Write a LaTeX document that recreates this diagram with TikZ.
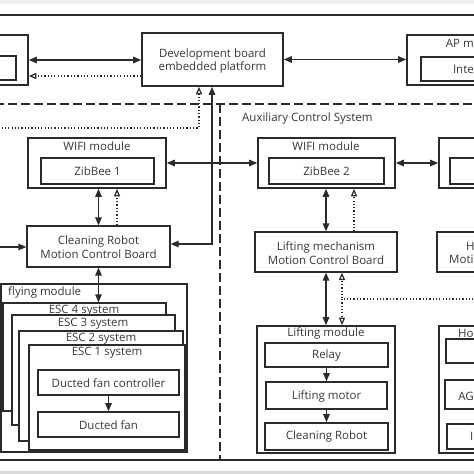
\documentclass[tikz,border=0pt]{standalone}
\usepackage{fontspec}
\setmainfont{Open Sans}
\usetikzlibrary{arrows.meta,fit}
\definecolor{ink}{HTML}{2B2B2B}
\definecolor{inktext}{HTML}{383838}
\begin{document}
\begin{tikzpicture}[x=1pt,y=-1pt,
  every node/.style={text=inktext, font=\fontsize{11.5}{13.5}\selectfont},
  box/.style={draw=ink, line width=1.6pt, fill=white, inner sep=0pt},
  thinbox/.style={box, line width=1.2pt},
  txt/.style={inner sep=0pt, align=center},
  solidtip/.tip={Triangle[length=8pt,width=6.5pt]},
  opentip/.tip={Triangle[open,length=7.5pt,width=6pt,line width=1.2pt]},
  link/.style={draw=ink, line width=1.3pt},
  both/.style={link, solidtip-solidtip},
  one/.style={link, -solidtip},
  dot/.style={draw=ink, line width=1.2pt, dash pattern=on 1.2pt off 2.1pt},
  dsh/.style={draw=ink, line width=1.3pt, dash pattern=on 9pt off 4pt},
]
\useasboundingbox (0,0) rectangle (474,474);
\clip (0,0) rectangle (474,474);
\fill[white] (0,0) rectangle (474,474);
\fill[gray!12] (0,0) rectangle (474,4);
\fill[gray!30] (0,471) rectangle (474,474);
\draw[ink, line width=1.5pt] (-10,15) rectangle (490,460);

% top row
\node[box, fit={(-60,35) (28,85)}] (lbox) {};
\node[box, fit={(-50,56) (16,80)}] (lin) {};
\node[box, fit={(142,33) (283,86)}] (dev) {};
\node[txt] (devt) at (212.5,61) {Development board\\embedded platform};
\node[box, fit={(407,35) (560,85)}] (ap) {};
\node[txt, anchor=east] (apt) at (474,43) {AP m};
\node[box, fit={(421,57) (545,81)}] (apin) {};
\node[txt, anchor=east] (apint) at (474,69) {Inte};

\draw[both] (lbox.east) -- (lbox.east -| dev.west);
\draw[dot, -opentip] (dev.west |- 0,76) -- (lbox.east |- 0,76);
\draw[both] (dev.east) -- (dev.east -| ap.west);

% separators
\draw[dsh] (-5,104) -- (480,104);
\draw[dsh] (220,104) -- (220,460);
\node[txt, anchor=west] (aux) at (242,119) {Auxiliary Control System};

% WIFI modules
\node[box, fit={(28,138) (166,188)}] (w1) {};
\node[txt] (w1t) at (97,146) {WIFI module};
\node[box, fit={(41,158) (154,184)}] (z1) {};
\node[txt] (z1t) at (97.5,171.5) {ZibBee 1};
\node[box, fit={(258,138) (395,188)}] (w2) {};
\node[txt] (w2t) at (326,146) {WIFI module};
\node[box, fit={(269,158) (384,184)}] (z2) {};
\node[txt] (z2t) at (326.5,171.5) {ZibBee 2};
\node[box, fit={(439,138) (580,188)}] (w3) {};
\node[box, fit={(450,158) (570,184)}] (z3) {};
\draw[both] (w1.east) -- (w1.east -| w2.west);
\draw[both] (w2.east) -- (w2.east -| w3.west);

% cleaning robot board
\node[thinbox, fit={(27,226) (170,267)}] (cb) {};
\node[txt] (cbt) at (98.5,247) {Cleaning Robot\\Motion Control Board};
\coordinate (lin2) at (-5,247);
\draw[one] (lin2) -- (cb.west |- lin2);
\draw[both] (cb.north) -- (cb.north |- w1.south);
\draw[dot, -opentip] (cb.north -| 117,0) -- (w1.south -| 117,0);
\draw[both] (cb.east |- 0,244) -| (dev.south -| 212,0);
\coordinate (lin1) at (-5,128);
\draw[dot, -opentip] (lin1) -| (dev.south -| 199,0);

% flying module
\node[box, line width=1.4pt, fit={(1,284) (187,452)}] (fly) {};
\node[txt, anchor=west] (flyt) at (8,292) {flying module};
\node[box, line width=1.4pt, fit={(3,303) (166,411)}] (esc4) {};
\node[txt] (e4t) at (84,311) {ESC 4 system};
\node[box, line width=1.4pt, fit={(12,315) (175,425)}] (esc3) {};
\node[txt] (e3t) at (93,324) {ESC 3 system};
\node[box, line width=1.4pt, fit={(19,331) (183,441)}] (esc2) {};
\node[txt] (e2t) at (101,339) {ESC 2 system};
\node[box, line width=1.4pt, fit={(29,345) (185,450)}] (esc1) {};
\node[txt] (e1t) at (107,353) {ESC 1 system};
\node[box, fit={(38,370) (179,395)}] (dfc) {};
\node[txt] (dfct) at (108.5,383) {Ducted fan controller};
\node[box, fit={(38,412) (179,437)}] (df) {};
\node[txt] (dft) at (108.5,425) {Ducted fan};
\draw[one] (dfc.south) -- (df.north);
\draw[both] (cb.south) -- (cb.south |- esc4.north);

% lifting
\node[thinbox, fit={(255,232) (397,272)}] (lb) {};
\node[txt] (lbt) at (326,253) {Lifting mechanism\\Motion Control Board};
\draw[both] (lb.north) -- (lb.north |- w2.south);
\draw[dot, -opentip] (lb.north -| 354,0) -- (w2.south -| 354,0);
\node[box, fit={(257,326) (395,453)}] (lm) {};
\node[txt] (lmt) at (326,333) {Lifting module};
\node[box, fit={(265,343) (388,367)}] (relay) {};
\node[txt] (relayt) at (326.5,355.5) {Relay};
\node[box, fit={(266,382) (387,409)}] (motor) {};
\node[txt] (motort) at (326.5,396) {Lifting motor};
\node[box, fit={(265,423) (388,450)}] (robot) {};
\node[txt] (robott) at (326.5,437) {Cleaning Robot};
\draw[both] (lb.south) -- (lb.south |- lm.north);
\draw[one] (relay.south) -- (relay.south |- motor.north);
\draw[one] (motor.south) -- (motor.south |- robot.north);
\coordinate (rin) at (480,299);
\coordinate (jn) at (342,299);
\draw[dot, -opentip] (rin) -- (jn) -- (lb.south -| jn);
\draw[dot, -opentip] (jn) -- (lm.north -| jn);

% right column
\node[thinbox, fit={(437,232) (600,272)}] (hb) {};
\node[txt, anchor=west] (hbt1) at (466,246) {H};
\node[txt, anchor=west] (hbt2) at (449,259) {Moti};
\node[box, fit={(439,326) (600,453)}] (hm) {};
\node[txt, anchor=west] (hmt) at (458,333) {Ho};
\node[box, fit={(446,339) (590,363)}] (h1) {};
\node[box, fit={(445,380) (590,409)}] (h2) {};
\node[txt, anchor=east] (h2t) at (474,396) {AG};
\node[box, fit={(447,424) (590,449)}] (h3) {};
\node[txt, anchor=west] (h3t) at (470,436) {I};
\end{tikzpicture}
\end{document}
